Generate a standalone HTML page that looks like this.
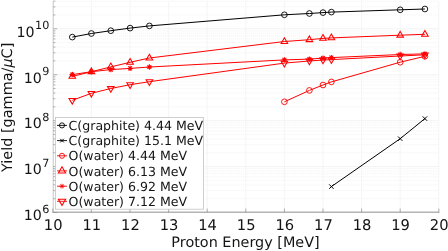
<!DOCTYPE html>
<html><head><meta charset="utf-8"><title>Yield vs Proton Energy</title>
<style>html,body{margin:0;padding:0;background:#fff;}body{width:448px;height:251px;overflow:hidden;}svg{display:block;}</style>
</head><body>
<svg width="448" height="251" viewBox="0 0 448 251" font-family="DejaVu Sans, Liberation Sans, sans-serif" text-rendering="geometricPrecision"><line x1="52.8" y1="198.67" x2="438.8" y2="198.67" stroke="#e4e4e4" stroke-width="0.6" stroke-dasharray="0.8 1.2"/>
<line x1="52.8" y1="190.59" x2="438.8" y2="190.59" stroke="#e4e4e4" stroke-width="0.6" stroke-dasharray="0.8 1.2"/>
<line x1="52.8" y1="184.85" x2="438.8" y2="184.85" stroke="#e4e4e4" stroke-width="0.6" stroke-dasharray="0.8 1.2"/>
<line x1="52.8" y1="180.40" x2="438.8" y2="180.40" stroke="#e4e4e4" stroke-width="0.6" stroke-dasharray="0.8 1.2"/>
<line x1="52.8" y1="176.76" x2="438.8" y2="176.76" stroke="#e4e4e4" stroke-width="0.6" stroke-dasharray="0.8 1.2"/>
<line x1="52.8" y1="173.68" x2="438.8" y2="173.68" stroke="#e4e4e4" stroke-width="0.6" stroke-dasharray="0.8 1.2"/>
<line x1="52.8" y1="171.02" x2="438.8" y2="171.02" stroke="#e4e4e4" stroke-width="0.6" stroke-dasharray="0.8 1.2"/>
<line x1="52.8" y1="168.67" x2="438.8" y2="168.67" stroke="#e4e4e4" stroke-width="0.6" stroke-dasharray="0.8 1.2"/>
<line x1="52.8" y1="152.74" x2="438.8" y2="152.74" stroke="#e4e4e4" stroke-width="0.6" stroke-dasharray="0.8 1.2"/>
<line x1="52.8" y1="144.66" x2="438.8" y2="144.66" stroke="#e4e4e4" stroke-width="0.6" stroke-dasharray="0.8 1.2"/>
<line x1="52.8" y1="138.92" x2="438.8" y2="138.92" stroke="#e4e4e4" stroke-width="0.6" stroke-dasharray="0.8 1.2"/>
<line x1="52.8" y1="134.47" x2="438.8" y2="134.47" stroke="#e4e4e4" stroke-width="0.6" stroke-dasharray="0.8 1.2"/>
<line x1="52.8" y1="130.83" x2="438.8" y2="130.83" stroke="#e4e4e4" stroke-width="0.6" stroke-dasharray="0.8 1.2"/>
<line x1="52.8" y1="127.75" x2="438.8" y2="127.75" stroke="#e4e4e4" stroke-width="0.6" stroke-dasharray="0.8 1.2"/>
<line x1="52.8" y1="125.09" x2="438.8" y2="125.09" stroke="#e4e4e4" stroke-width="0.6" stroke-dasharray="0.8 1.2"/>
<line x1="52.8" y1="122.74" x2="438.8" y2="122.74" stroke="#e4e4e4" stroke-width="0.6" stroke-dasharray="0.8 1.2"/>
<line x1="52.8" y1="106.81" x2="438.8" y2="106.81" stroke="#e4e4e4" stroke-width="0.6" stroke-dasharray="0.8 1.2"/>
<line x1="52.8" y1="98.73" x2="438.8" y2="98.73" stroke="#e4e4e4" stroke-width="0.6" stroke-dasharray="0.8 1.2"/>
<line x1="52.8" y1="92.99" x2="438.8" y2="92.99" stroke="#e4e4e4" stroke-width="0.6" stroke-dasharray="0.8 1.2"/>
<line x1="52.8" y1="88.54" x2="438.8" y2="88.54" stroke="#e4e4e4" stroke-width="0.6" stroke-dasharray="0.8 1.2"/>
<line x1="52.8" y1="84.90" x2="438.8" y2="84.90" stroke="#e4e4e4" stroke-width="0.6" stroke-dasharray="0.8 1.2"/>
<line x1="52.8" y1="81.82" x2="438.8" y2="81.82" stroke="#e4e4e4" stroke-width="0.6" stroke-dasharray="0.8 1.2"/>
<line x1="52.8" y1="79.16" x2="438.8" y2="79.16" stroke="#e4e4e4" stroke-width="0.6" stroke-dasharray="0.8 1.2"/>
<line x1="52.8" y1="76.81" x2="438.8" y2="76.81" stroke="#e4e4e4" stroke-width="0.6" stroke-dasharray="0.8 1.2"/>
<line x1="52.8" y1="60.88" x2="438.8" y2="60.88" stroke="#e4e4e4" stroke-width="0.6" stroke-dasharray="0.8 1.2"/>
<line x1="52.8" y1="52.80" x2="438.8" y2="52.80" stroke="#e4e4e4" stroke-width="0.6" stroke-dasharray="0.8 1.2"/>
<line x1="52.8" y1="47.06" x2="438.8" y2="47.06" stroke="#e4e4e4" stroke-width="0.6" stroke-dasharray="0.8 1.2"/>
<line x1="52.8" y1="42.61" x2="438.8" y2="42.61" stroke="#e4e4e4" stroke-width="0.6" stroke-dasharray="0.8 1.2"/>
<line x1="52.8" y1="38.97" x2="438.8" y2="38.97" stroke="#e4e4e4" stroke-width="0.6" stroke-dasharray="0.8 1.2"/>
<line x1="52.8" y1="35.89" x2="438.8" y2="35.89" stroke="#e4e4e4" stroke-width="0.6" stroke-dasharray="0.8 1.2"/>
<line x1="52.8" y1="33.23" x2="438.8" y2="33.23" stroke="#e4e4e4" stroke-width="0.6" stroke-dasharray="0.8 1.2"/>
<line x1="52.8" y1="30.88" x2="438.8" y2="30.88" stroke="#e4e4e4" stroke-width="0.6" stroke-dasharray="0.8 1.2"/>
<line x1="52.8" y1="14.95" x2="438.8" y2="14.95" stroke="#e4e4e4" stroke-width="0.6" stroke-dasharray="0.8 1.2"/>
<line x1="52.8" y1="6.87" x2="438.8" y2="6.87" stroke="#e4e4e4" stroke-width="0.6" stroke-dasharray="0.8 1.2"/>
<line x1="52.8" y1="1.13" x2="438.8" y2="1.13" stroke="#e4e4e4" stroke-width="0.6" stroke-dasharray="0.8 1.2"/>
<line x1="52.8" y1="166.57" x2="438.8" y2="166.57" stroke="#f0f0f0" stroke-width="0.8"/>
<line x1="52.8" y1="120.64" x2="438.8" y2="120.64" stroke="#f0f0f0" stroke-width="0.8"/>
<line x1="52.8" y1="74.71" x2="438.8" y2="74.71" stroke="#f0f0f0" stroke-width="0.8"/>
<line x1="52.8" y1="28.78" x2="438.8" y2="28.78" stroke="#f0f0f0" stroke-width="0.8"/>
<line x1="91.40" y1="1.13" x2="91.40" y2="212.5" stroke="#f2f2f2" stroke-width="0.8"/>
<line x1="130.00" y1="1.13" x2="130.00" y2="212.5" stroke="#f2f2f2" stroke-width="0.8"/>
<line x1="168.60" y1="1.13" x2="168.60" y2="212.5" stroke="#f2f2f2" stroke-width="0.8"/>
<line x1="207.20" y1="1.13" x2="207.20" y2="212.5" stroke="#f2f2f2" stroke-width="0.8"/>
<line x1="245.80" y1="1.13" x2="245.80" y2="212.5" stroke="#f2f2f2" stroke-width="0.8"/>
<line x1="284.40" y1="1.13" x2="284.40" y2="212.5" stroke="#f2f2f2" stroke-width="0.8"/>
<line x1="323.00" y1="1.13" x2="323.00" y2="212.5" stroke="#f2f2f2" stroke-width="0.8"/>
<line x1="361.60" y1="1.13" x2="361.60" y2="212.5" stroke="#f2f2f2" stroke-width="0.8"/>
<line x1="400.20" y1="1.13" x2="400.20" y2="212.5" stroke="#f2f2f2" stroke-width="0.8"/>
<line x1="438.80" y1="1.13" x2="438.80" y2="212.5" stroke="#f2f2f2" stroke-width="0.8"/>
<line x1="53.3" y1="1.13" x2="53.3" y2="213.0" stroke="#d6d6d6" stroke-width="1.4"/>
<line x1="52.6" y1="212.35" x2="439.2" y2="212.35" stroke="#b4b4b4" stroke-width="1.5"/>
<line x1="52.80" y1="212.5" x2="52.80" y2="208.6" stroke="#8c8c8c" stroke-width="0.7"/>
<line x1="91.40" y1="212.5" x2="91.40" y2="208.6" stroke="#8c8c8c" stroke-width="0.7"/>
<line x1="130.00" y1="212.5" x2="130.00" y2="208.6" stroke="#8c8c8c" stroke-width="0.7"/>
<line x1="168.60" y1="212.5" x2="168.60" y2="208.6" stroke="#8c8c8c" stroke-width="0.7"/>
<line x1="207.20" y1="212.5" x2="207.20" y2="208.6" stroke="#8c8c8c" stroke-width="0.7"/>
<line x1="245.80" y1="212.5" x2="245.80" y2="208.6" stroke="#8c8c8c" stroke-width="0.7"/>
<line x1="284.40" y1="212.5" x2="284.40" y2="208.6" stroke="#8c8c8c" stroke-width="0.7"/>
<line x1="323.00" y1="212.5" x2="323.00" y2="208.6" stroke="#8c8c8c" stroke-width="0.7"/>
<line x1="361.60" y1="212.5" x2="361.60" y2="208.6" stroke="#8c8c8c" stroke-width="0.7"/>
<line x1="400.20" y1="212.5" x2="400.20" y2="208.6" stroke="#8c8c8c" stroke-width="0.7"/>
<line x1="438.80" y1="212.5" x2="438.80" y2="208.6" stroke="#8c8c8c" stroke-width="0.7"/>
<line x1="53.3" y1="212.50" x2="57.199999999999996" y2="212.50" stroke="#8c8c8c" stroke-width="0.7"/>
<line x1="53.3" y1="198.67" x2="55.3" y2="198.67" stroke="#8c8c8c" stroke-width="0.7"/>
<line x1="53.3" y1="190.59" x2="55.3" y2="190.59" stroke="#8c8c8c" stroke-width="0.7"/>
<line x1="53.3" y1="184.85" x2="55.3" y2="184.85" stroke="#8c8c8c" stroke-width="0.7"/>
<line x1="53.3" y1="180.40" x2="55.3" y2="180.40" stroke="#8c8c8c" stroke-width="0.7"/>
<line x1="53.3" y1="176.76" x2="55.3" y2="176.76" stroke="#8c8c8c" stroke-width="0.7"/>
<line x1="53.3" y1="173.68" x2="55.3" y2="173.68" stroke="#8c8c8c" stroke-width="0.7"/>
<line x1="53.3" y1="171.02" x2="55.3" y2="171.02" stroke="#8c8c8c" stroke-width="0.7"/>
<line x1="53.3" y1="168.67" x2="55.3" y2="168.67" stroke="#8c8c8c" stroke-width="0.7"/>
<line x1="53.3" y1="166.57" x2="57.199999999999996" y2="166.57" stroke="#8c8c8c" stroke-width="0.7"/>
<line x1="53.3" y1="152.74" x2="55.3" y2="152.74" stroke="#8c8c8c" stroke-width="0.7"/>
<line x1="53.3" y1="144.66" x2="55.3" y2="144.66" stroke="#8c8c8c" stroke-width="0.7"/>
<line x1="53.3" y1="138.92" x2="55.3" y2="138.92" stroke="#8c8c8c" stroke-width="0.7"/>
<line x1="53.3" y1="134.47" x2="55.3" y2="134.47" stroke="#8c8c8c" stroke-width="0.7"/>
<line x1="53.3" y1="130.83" x2="55.3" y2="130.83" stroke="#8c8c8c" stroke-width="0.7"/>
<line x1="53.3" y1="127.75" x2="55.3" y2="127.75" stroke="#8c8c8c" stroke-width="0.7"/>
<line x1="53.3" y1="125.09" x2="55.3" y2="125.09" stroke="#8c8c8c" stroke-width="0.7"/>
<line x1="53.3" y1="122.74" x2="55.3" y2="122.74" stroke="#8c8c8c" stroke-width="0.7"/>
<line x1="53.3" y1="120.64" x2="57.199999999999996" y2="120.64" stroke="#8c8c8c" stroke-width="0.7"/>
<line x1="53.3" y1="106.81" x2="55.3" y2="106.81" stroke="#8c8c8c" stroke-width="0.7"/>
<line x1="53.3" y1="98.73" x2="55.3" y2="98.73" stroke="#8c8c8c" stroke-width="0.7"/>
<line x1="53.3" y1="92.99" x2="55.3" y2="92.99" stroke="#8c8c8c" stroke-width="0.7"/>
<line x1="53.3" y1="88.54" x2="55.3" y2="88.54" stroke="#8c8c8c" stroke-width="0.7"/>
<line x1="53.3" y1="84.90" x2="55.3" y2="84.90" stroke="#8c8c8c" stroke-width="0.7"/>
<line x1="53.3" y1="81.82" x2="55.3" y2="81.82" stroke="#8c8c8c" stroke-width="0.7"/>
<line x1="53.3" y1="79.16" x2="55.3" y2="79.16" stroke="#8c8c8c" stroke-width="0.7"/>
<line x1="53.3" y1="76.81" x2="55.3" y2="76.81" stroke="#8c8c8c" stroke-width="0.7"/>
<line x1="53.3" y1="74.71" x2="57.199999999999996" y2="74.71" stroke="#8c8c8c" stroke-width="0.7"/>
<line x1="53.3" y1="60.88" x2="55.3" y2="60.88" stroke="#8c8c8c" stroke-width="0.7"/>
<line x1="53.3" y1="52.80" x2="55.3" y2="52.80" stroke="#8c8c8c" stroke-width="0.7"/>
<line x1="53.3" y1="47.06" x2="55.3" y2="47.06" stroke="#8c8c8c" stroke-width="0.7"/>
<line x1="53.3" y1="42.61" x2="55.3" y2="42.61" stroke="#8c8c8c" stroke-width="0.7"/>
<line x1="53.3" y1="38.97" x2="55.3" y2="38.97" stroke="#8c8c8c" stroke-width="0.7"/>
<line x1="53.3" y1="35.89" x2="55.3" y2="35.89" stroke="#8c8c8c" stroke-width="0.7"/>
<line x1="53.3" y1="33.23" x2="55.3" y2="33.23" stroke="#8c8c8c" stroke-width="0.7"/>
<line x1="53.3" y1="30.88" x2="55.3" y2="30.88" stroke="#8c8c8c" stroke-width="0.7"/>
<line x1="53.3" y1="28.78" x2="57.199999999999996" y2="28.78" stroke="#8c8c8c" stroke-width="0.7"/>
<line x1="53.3" y1="14.95" x2="55.3" y2="14.95" stroke="#8c8c8c" stroke-width="0.7"/>
<line x1="53.3" y1="6.87" x2="55.3" y2="6.87" stroke="#8c8c8c" stroke-width="0.7"/>
<line x1="53.3" y1="1.13" x2="55.3" y2="1.13" stroke="#8c8c8c" stroke-width="0.7"/>
<polyline points="72.30,37.10 91.40,33.50 110.80,30.70 130.10,28.10 149.40,25.90 284.40,14.80 309.40,13.50 323.00,12.60 331.40,12.10 400.20,9.80 424.90,9.00" fill="none" stroke="#000000" stroke-width="1.0" stroke-linejoin="round"/>
<circle cx="72.30" cy="37.10" r="2.85" fill="none" stroke="#000000" stroke-width="0.9"/>
<circle cx="91.40" cy="33.50" r="2.85" fill="none" stroke="#000000" stroke-width="0.9"/>
<circle cx="110.80" cy="30.70" r="2.85" fill="none" stroke="#000000" stroke-width="0.9"/>
<circle cx="130.10" cy="28.10" r="2.85" fill="none" stroke="#000000" stroke-width="0.9"/>
<circle cx="149.40" cy="25.90" r="2.85" fill="none" stroke="#000000" stroke-width="0.9"/>
<circle cx="284.40" cy="14.80" r="2.85" fill="none" stroke="#000000" stroke-width="0.9"/>
<circle cx="309.40" cy="13.50" r="2.85" fill="none" stroke="#000000" stroke-width="0.9"/>
<circle cx="323.00" cy="12.60" r="2.85" fill="none" stroke="#000000" stroke-width="0.9"/>
<circle cx="331.40" cy="12.10" r="2.85" fill="none" stroke="#000000" stroke-width="0.9"/>
<circle cx="400.20" cy="9.80" r="2.85" fill="none" stroke="#000000" stroke-width="0.9"/>
<circle cx="424.90" cy="9.00" r="2.85" fill="none" stroke="#000000" stroke-width="0.9"/>
<polyline points="331.40,186.60 400.20,138.70 424.90,118.60" fill="none" stroke="#000000" stroke-width="1.0" stroke-linejoin="round"/>
<path d="M329.20 184.40L333.60 188.80M329.20 188.80L333.60 184.40" stroke="#000000" stroke-width="1.0" fill="none"/>
<path d="M398.00 136.50L402.40 140.90M398.00 140.90L402.40 136.50" stroke="#000000" stroke-width="1.0" fill="none"/>
<path d="M422.70 116.40L427.10 120.80M422.70 120.80L427.10 116.40" stroke="#000000" stroke-width="1.0" fill="none"/>
<polyline points="284.40,101.80 309.40,90.40 323.00,85.00 331.40,81.90 400.20,62.20 424.90,56.30" fill="none" stroke="#ff0000" stroke-width="1.0" stroke-linejoin="round"/>
<circle cx="284.40" cy="101.80" r="2.85" fill="none" stroke="#ff0000" stroke-width="0.9"/>
<circle cx="309.40" cy="90.40" r="2.85" fill="none" stroke="#ff0000" stroke-width="0.9"/>
<circle cx="323.00" cy="85.00" r="2.85" fill="none" stroke="#ff0000" stroke-width="0.9"/>
<circle cx="331.40" cy="81.90" r="2.85" fill="none" stroke="#ff0000" stroke-width="0.9"/>
<circle cx="400.20" cy="62.20" r="2.85" fill="none" stroke="#ff0000" stroke-width="0.9"/>
<circle cx="424.90" cy="56.30" r="2.85" fill="none" stroke="#ff0000" stroke-width="0.9"/>
<polyline points="72.30,76.40 91.40,71.70 110.80,66.90 130.10,62.30 149.40,58.00 284.40,41.50 309.40,39.70 323.00,38.40 331.40,37.90 400.20,35.20 424.90,34.30" fill="none" stroke="#ff0000" stroke-width="1.0" stroke-linejoin="round"/>
<path d="M72.30 72.60L75.60 78.30L69.00 78.30Z" stroke="#ff0000" stroke-width="1.05" fill="none"/>
<path d="M91.40 67.90L94.70 73.60L88.10 73.60Z" stroke="#ff0000" stroke-width="1.05" fill="none"/>
<path d="M110.80 63.10L114.10 68.80L107.50 68.80Z" stroke="#ff0000" stroke-width="1.05" fill="none"/>
<path d="M130.10 58.50L133.40 64.20L126.80 64.20Z" stroke="#ff0000" stroke-width="1.05" fill="none"/>
<path d="M149.40 54.20L152.70 59.90L146.10 59.90Z" stroke="#ff0000" stroke-width="1.05" fill="none"/>
<path d="M284.40 37.70L287.70 43.40L281.10 43.40Z" stroke="#ff0000" stroke-width="1.05" fill="none"/>
<path d="M309.40 35.90L312.70 41.60L306.10 41.60Z" stroke="#ff0000" stroke-width="1.05" fill="none"/>
<path d="M323.00 34.60L326.30 40.30L319.70 40.30Z" stroke="#ff0000" stroke-width="1.05" fill="none"/>
<path d="M331.40 34.10L334.70 39.80L328.10 39.80Z" stroke="#ff0000" stroke-width="1.05" fill="none"/>
<path d="M400.20 31.40L403.50 37.10L396.90 37.10Z" stroke="#ff0000" stroke-width="1.05" fill="none"/>
<path d="M424.90 30.50L428.20 36.20L421.60 36.20Z" stroke="#ff0000" stroke-width="1.05" fill="none"/>
<polyline points="72.30,74.60 91.40,71.70 110.80,69.60 130.10,68.40 149.40,67.00 284.40,59.90 309.40,59.10 323.00,58.10 331.40,57.60 400.20,54.50 424.90,53.90" fill="none" stroke="#ff0000" stroke-width="1.0" stroke-linejoin="round"/>
<path d="M69.60 74.60L75.00 74.60M72.30 71.90L72.30 77.30M70.39 72.69L74.21 76.51M70.39 76.51L74.21 72.69" stroke="#ff0000" stroke-width="1.05" fill="none"/>
<path d="M88.70 71.70L94.10 71.70M91.40 69.00L91.40 74.40M89.49 69.79L93.31 73.61M89.49 73.61L93.31 69.79" stroke="#ff0000" stroke-width="1.05" fill="none"/>
<path d="M108.10 69.60L113.50 69.60M110.80 66.90L110.80 72.30M108.89 67.69L112.71 71.51M108.89 71.51L112.71 67.69" stroke="#ff0000" stroke-width="1.05" fill="none"/>
<path d="M127.40 68.40L132.80 68.40M130.10 65.70L130.10 71.10M128.19 66.49L132.01 70.31M128.19 70.31L132.01 66.49" stroke="#ff0000" stroke-width="1.05" fill="none"/>
<path d="M146.70 67.00L152.10 67.00M149.40 64.30L149.40 69.70M147.49 65.09L151.31 68.91M147.49 68.91L151.31 65.09" stroke="#ff0000" stroke-width="1.05" fill="none"/>
<path d="M281.70 59.90L287.10 59.90M284.40 57.20L284.40 62.60M282.49 57.99L286.31 61.81M282.49 61.81L286.31 57.99" stroke="#ff0000" stroke-width="1.05" fill="none"/>
<path d="M306.70 59.10L312.10 59.10M309.40 56.40L309.40 61.80M307.49 57.19L311.31 61.01M307.49 61.01L311.31 57.19" stroke="#ff0000" stroke-width="1.05" fill="none"/>
<path d="M320.30 58.10L325.70 58.10M323.00 55.40L323.00 60.80M321.09 56.19L324.91 60.01M321.09 60.01L324.91 56.19" stroke="#ff0000" stroke-width="1.05" fill="none"/>
<path d="M328.70 57.60L334.10 57.60M331.40 54.90L331.40 60.30M329.49 55.69L333.31 59.51M329.49 59.51L333.31 55.69" stroke="#ff0000" stroke-width="1.05" fill="none"/>
<path d="M397.50 54.50L402.90 54.50M400.20 51.80L400.20 57.20M398.29 52.59L402.11 56.41M398.29 56.41L402.11 52.59" stroke="#ff0000" stroke-width="1.05" fill="none"/>
<path d="M422.20 53.90L427.60 53.90M424.90 51.20L424.90 56.60M422.99 51.99L426.81 55.81M422.99 55.81L426.81 51.99" stroke="#ff0000" stroke-width="1.05" fill="none"/>
<polyline points="72.30,100.30 91.40,93.30 110.80,88.50 130.10,84.70 149.40,81.70 284.40,63.10 309.40,61.00 323.00,60.00 331.40,59.60 400.20,56.00 424.90,54.80" fill="none" stroke="#ff0000" stroke-width="1.0" stroke-linejoin="round"/>
<path d="M72.30 104.10L75.60 98.40L69.00 98.40Z" stroke="#ff0000" stroke-width="1.05" fill="none"/>
<path d="M91.40 97.10L94.70 91.40L88.10 91.40Z" stroke="#ff0000" stroke-width="1.05" fill="none"/>
<path d="M110.80 92.30L114.10 86.60L107.50 86.60Z" stroke="#ff0000" stroke-width="1.05" fill="none"/>
<path d="M130.10 88.50L133.40 82.80L126.80 82.80Z" stroke="#ff0000" stroke-width="1.05" fill="none"/>
<path d="M149.40 85.50L152.70 79.80L146.10 79.80Z" stroke="#ff0000" stroke-width="1.05" fill="none"/>
<path d="M284.40 66.90L287.70 61.20L281.10 61.20Z" stroke="#ff0000" stroke-width="1.05" fill="none"/>
<path d="M309.40 64.80L312.70 59.10L306.10 59.10Z" stroke="#ff0000" stroke-width="1.05" fill="none"/>
<path d="M323.00 63.80L326.30 58.10L319.70 58.10Z" stroke="#ff0000" stroke-width="1.05" fill="none"/>
<path d="M331.40 63.40L334.70 57.70L328.10 57.70Z" stroke="#ff0000" stroke-width="1.05" fill="none"/>
<path d="M400.20 59.80L403.50 54.10L396.90 54.10Z" stroke="#ff0000" stroke-width="1.05" fill="none"/>
<path d="M424.90 58.60L428.20 52.90L421.60 52.90Z" stroke="#ff0000" stroke-width="1.05" fill="none"/>
<rect x="55.5" y="117.5" width="148.0" height="91.69999999999999" fill="#fff" stroke="#c4c4c4" stroke-width="0.8"/>
<line x1="57" y1="125.4" x2="67" y2="125.4" stroke="#000000" stroke-width="0.9"/>
<circle cx="62.00" cy="125.40" r="2.56" fill="none" stroke="#000000" stroke-width="0.9"/>
<text transform="translate(68.6 130.00) scale(1 1.0)" font-size="12.55" fill="#141414">C(graphite) 4.44 MeV</text>
<line x1="57" y1="140.6" x2="67" y2="140.6" stroke="#000000" stroke-width="0.9"/>
<path d="M60.24 138.84L63.76 142.36M60.24 142.36L63.76 138.84" stroke="#000000" stroke-width="1.0" fill="none"/>
<text transform="translate(68.6 145.20) scale(1 1.0)" font-size="12.55" fill="#141414">C(graphite) 15.1 MeV</text>
<line x1="57" y1="155.8" x2="67" y2="155.8" stroke="#ff0000" stroke-width="0.9"/>
<circle cx="62.00" cy="155.80" r="2.56" fill="none" stroke="#ff0000" stroke-width="0.9"/>
<text transform="translate(68.6 160.40) scale(1 1.0)" font-size="12.55" fill="#141414">O(water) 4.44 MeV</text>
<line x1="57" y1="170.9" x2="67" y2="170.9" stroke="#ff0000" stroke-width="0.9"/>
<path d="M62.00 166.72L65.63 172.99L58.37 172.99Z" stroke="#ff0000" stroke-width="1.05" fill="none"/>
<text transform="translate(68.6 175.50) scale(1 1.0)" font-size="12.55" fill="#141414">O(water) 6.13 MeV</text>
<line x1="57" y1="186.2" x2="67" y2="186.2" stroke="#ff0000" stroke-width="0.9"/>
<path d="M59.57 186.20L64.43 186.20M62.00 183.77L62.00 188.63M60.28 184.48L63.72 187.92M60.28 187.92L63.72 184.48" stroke="#ff0000" stroke-width="0.85" fill="none"/>
<text transform="translate(68.6 190.80) scale(1 1.0)" font-size="12.55" fill="#141414">O(water) 6.92 MeV</text>
<line x1="57" y1="201.3" x2="67" y2="201.3" stroke="#ff0000" stroke-width="0.9"/>
<path d="M62.00 205.48L65.63 199.21L58.37 199.21Z" stroke="#ff0000" stroke-width="1.05" fill="none"/>
<text transform="translate(68.6 205.90) scale(1 1.0)" font-size="12.55" fill="#141414">O(water) 7.12 MeV</text>
<text transform="translate(53.20 229.8) scale(1 1.0)" font-size="14.7" text-anchor="middle" fill="#141414">10</text>
<text transform="translate(91.80 229.8) scale(1 1.0)" font-size="14.7" text-anchor="middle" fill="#141414">11</text>
<text transform="translate(130.40 229.8) scale(1 1.0)" font-size="14.7" text-anchor="middle" fill="#141414">12</text>
<text transform="translate(169.00 229.8) scale(1 1.0)" font-size="14.7" text-anchor="middle" fill="#141414">13</text>
<text transform="translate(207.60 229.8) scale(1 1.0)" font-size="14.7" text-anchor="middle" fill="#141414">14</text>
<text transform="translate(246.20 229.8) scale(1 1.0)" font-size="14.7" text-anchor="middle" fill="#141414">15</text>
<text transform="translate(284.80 229.8) scale(1 1.0)" font-size="14.7" text-anchor="middle" fill="#141414">16</text>
<text transform="translate(323.40 229.8) scale(1 1.0)" font-size="14.7" text-anchor="middle" fill="#141414">17</text>
<text transform="translate(362.00 229.8) scale(1 1.0)" font-size="14.7" text-anchor="middle" fill="#141414">18</text>
<text transform="translate(400.60 229.8) scale(1 1.0)" font-size="14.7" text-anchor="middle" fill="#141414">19</text>
<text transform="translate(439.20 229.8) scale(1 1.0)" font-size="14.7" text-anchor="middle" fill="#141414">20</text>
<text transform="translate(49.3 220.30) scale(1 1.0)" font-size="14.2" text-anchor="end" fill="#141414">10<tspan font-size="11.2" dy="-7.1" dx="0.4">6</tspan></text>
<text transform="translate(49.3 174.37) scale(1 1.0)" font-size="14.2" text-anchor="end" fill="#141414">10<tspan font-size="11.2" dy="-7.1" dx="0.4">7</tspan></text>
<text transform="translate(49.3 128.44) scale(1 1.0)" font-size="14.2" text-anchor="end" fill="#141414">10<tspan font-size="11.2" dy="-7.1" dx="0.4">8</tspan></text>
<text transform="translate(49.3 82.51) scale(1 1.0)" font-size="14.2" text-anchor="end" fill="#141414">10<tspan font-size="11.2" dy="-7.1" dx="0.4">9</tspan></text>
<text transform="translate(49.3 36.58) scale(1 1.0)" font-size="14.2" text-anchor="end" fill="#141414">10<tspan font-size="11.2" dy="-7.1" dx="0.4">10</tspan></text>
<text transform="translate(245.5 246.7) scale(1 1.0)" font-size="14.4" text-anchor="middle" fill="#141414">Proton Energy [MeV]</text>
<text transform="translate(11.8 107.35) rotate(-90) scale(1 1.0)" font-size="14.45" text-anchor="middle" fill="#141414">Yield [gamma/<tspan font-style="italic">μ</tspan>C]</text></svg>
</body></html>
